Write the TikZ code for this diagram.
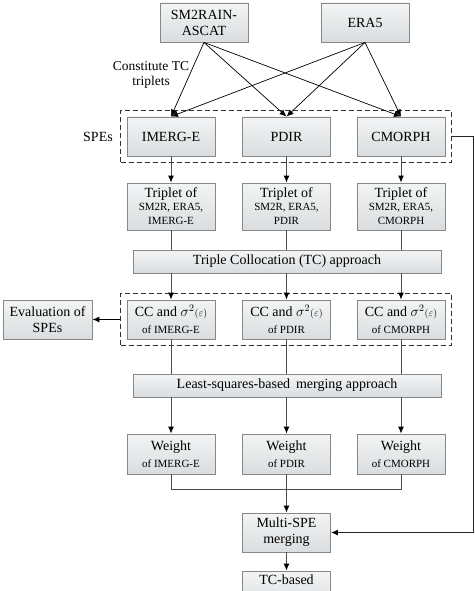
\documentclass[tikz,border=0pt]{standalone}
\usepackage{fontspec}
\setmainfont{Liberation Serif}
\usetikzlibrary{arrows.meta,fit}
\definecolor{boxtop}{RGB}{242,244,245}
\definecolor{boxbot}{RGB}{218,221,223}
\definecolor{boxline}{RGB}{135,135,135}
\newcommand\smtxt{\fontsize{11}{12}\selectfont}
\begin{document}
\begin{tikzpicture}[x=1pt,y=-1pt,
  box/.style={draw=boxline, line width=0.9pt, top color=boxtop, bottom color=boxbot,
    minimum width=88pt, minimum height=39pt, align=center, inner sep=1pt,
    font=\fontsize{14}{16}\selectfont},
  wide/.style={box, minimum width=308pt, minimum height=23pt, font=\fontsize{14}{15}\selectfont},
  grp/.style={draw=black!80, line width=0.9pt, dash pattern=on 5pt off 3pt, inner sep=6pt},
  ln/.style={draw=black!70, line width=0.9pt},
  arr/.style={ln, -{Latex[length=7pt,width=6pt,color=black]}},
  thin/.style={draw=black, line width=0.7pt, -{Latex[length=7pt,width=6pt]}},
  lbl/.style={align=center, font=\fontsize{14}{15}\selectfont}]
\useasboundingbox (0,0) rectangle (474,591);
% sources
\node[box] (sm) at (204,22.5) {SM2RAIN-\\ASCAT};
\node[box] (era) at (365,22.5) {ERA5};
% SPEs
\node[box] (im) at (171,136.5) {IMERG-E};
\node[box] (pd) at (286.5,136.5) {PDIR};
\node[box] (cm) at (401,136.5) {CMORPH};
\node[grp, fit=(im)(pd)(cm)] (g1) {};
\node[lbl] (spes) at (98,137) {SPEs};
\node[lbl, font=\fontsize{13.5}{15}\selectfont] (ctc) at (151,75) {Constitute TC\\triplets};
\foreach \s in {sm,era}{
  \foreach \t in {im,pd,cm}{
    \draw[thin] (\s.south) -- (\t.north);
  }
}
% triplets
\node[box, minimum height=47pt] (t1) at (171,206.5) {Triplet of\\[-3pt]{\smtxt SM2R, ERA5,}\\[-2pt]{\smtxt IMERG-E}};
\node[box, minimum height=47pt] (t2) at (286.5,206.5) {Triplet of\\[-3pt]{\smtxt SM2R, ERA5,}\\[-2pt]{\smtxt PDIR}};
\node[box, minimum height=47pt] (t3) at (401,206.5) {Triplet of\\[-3pt]{\smtxt SM2R, ERA5,}\\[-2pt]{\smtxt CMORPH}};
\draw[arr] (im.south) -- (t1.north);
\draw[arr] (pd.south) -- (t2.north);
\draw[arr] (cm.south) -- (t3.north);
% TC
\node[wide] (tc) at (287,261.5) {Triple Collocation (TC) approach};
\foreach \t in {t1,t2,t3}{\draw[ln] (\t.south) -- (\t.south |- tc.north);}
% CC
\node[box] (c1) at (171,319.5) {CC and $\sigma^{2}{\scriptstyle(\varepsilon)}$\\[1pt]{\smtxt of IMERG-E}};
\node[box] (c2) at (286.5,319.5) {CC and $\sigma^{2}{\scriptstyle(\varepsilon)}$\\[1pt]{\smtxt of PDIR}};
\node[box] (c3) at (401,319.5) {CC and $\sigma^{2}{\scriptstyle(\varepsilon)}$\\[1pt]{\smtxt of CMORPH}};
\node[grp, fit=(c1)(c2)(c3)] (g2) {};
\foreach \c in {c1,c2,c3}{\draw[arr] (\c.north |- tc.south) -- (\c.north);}
\node[box, minimum width=89pt] (ev) at (47.5,319.5) {Evaluation of\\SPEs};
\draw[ln, draw=black, -{Latex[length=7pt,width=6pt]}] (g2.west) -- (ev.east);
% LS
\node[wide] (ls) at (287,385.5) {Least-squares-based\, merging approach};
\foreach \c in {c1,c2,c3}{\draw[ln] (\c.south) -- (\c.south |- ls.north);}
% weights
\node[box, minimum height=40pt] (w1) at (171,454) {Weight\\[1pt]{\smtxt of IMERG-E}};
\node[box, minimum height=40pt] (w2) at (286.5,454) {Weight\\[1pt]{\smtxt of PDIR}};
\node[box, minimum height=40pt] (w3) at (401,454) {Weight\\[1pt]{\smtxt of CMORPH}};
\foreach \w in {w1,w2,w3}{\draw[arr] (\w.north |- ls.south) -- (\w.north);}
% merging
\node[box] (ms) at (286.5,532.5) {Multi-SPE\\merging};
\node[box] (tb) at (286.5,590.5) {TC-based\\\strut};
\coordinate (j) at (286.5,489);
\draw[ln] (w1.south) -- (w1.south |- j) -- (w3.south |- j) -- (w3.south);
\draw[arr] (w2.south) -- (ms.north);
\draw[arr] (ms.south) -- (tb.north);
\draw[draw=black!85, line width=1.2pt, -{Latex[length=7pt,width=6pt,color=black]}] (g1.east) -- ++(21.5,0) |- (ms.east);
\end{tikzpicture}
\end{document}
